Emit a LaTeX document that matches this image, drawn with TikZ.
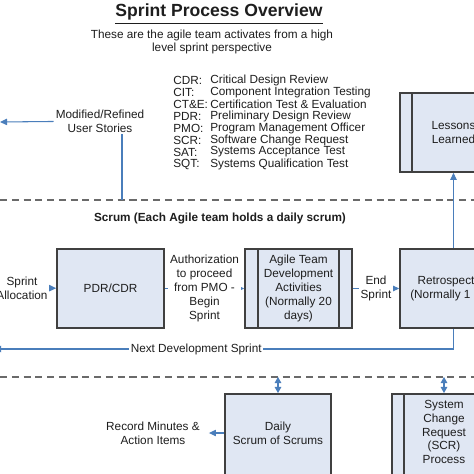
\documentclass[tikz,border=0pt]{standalone}
\usepackage{fontspec}
\setmainfont{Liberation Sans}
\usetikzlibrary{positioning,calc,arrows.meta}
\definecolor{boxfill}{HTML}{E0E7F3}
\definecolor{boxline}{HTML}{404040}
\definecolor{flowblue}{HTML}{4A7EBB}
\definecolor{sepgray}{HTML}{6A6A6A}
\definecolor{ink}{HTML}{1E1E1E}

\begin{document}
\begin{tikzpicture}[x=0.02cm,y=-0.02cm,every node/.append style={align=center,inner sep=1pt,text=ink,font=\fontsize{6.7}{7.9}\selectfont}]
    \tikzstyle{proc}=[rectangle, draw=boxline, fill=boxfill, line width=0.9pt, minimum width=2.14cm, minimum height=1.58cm]
    \tikzstyle{wire}=[draw=flowblue, line width=0.6pt]
    \tikzstyle{flow}=[wire, -{Triangle[length=4pt,width=3.6pt]}]
    \tikzstyle{twoway}=[wire, {Triangle[length=3.5pt,width=3.8pt]}-{Triangle[length=3.5pt,width=3.8pt]}]
    \tikzstyle{sep}=[draw=sepgray, line width=1.1pt, dash pattern=on 4pt off 2.7pt]
    \tikzstyle{legend}=[anchor=west, inner sep=0pt, font=\fontsize{6.7}{6.8}\selectfont]
    \path[use as bounding box, clip] (0,0) rectangle (474,474);
    \fill[white] (0,0) rectangle (474,474);
    % heading
    \node[font=\fontsize{10}{12}\selectfont\bfseries] (title) at (219,14) {\underline{Sprint Process Overview}};
    \node (sub) at (212,42) {These are the agile team activates from a high\\level sprint perspective};
    % abbreviations
    \foreach \ab/\txt [count=\k] in {CDR:/Critical Design Review,CIT:/Component Integration Testing,CT\&E:/Certification Test \& Evaluation,PDR:/Preliminary Design Review,PMO:/Program Management Officer,SCR:/Software Change Request,SAT:/Systems Acceptance Test,SQT:/Systems Qualification Test} {
        \node[legend] (ab\k) at (173,68+12*\k) {\ab};
        \node[legend] (df\k) at (210,68+12*\k) {\txt};
    }
    % swim lane borders
    \coordinate (d1) at (0,200);
    \coordinate (d2) at (0,377);
    \draw[sep] (d1) -- ++(474,0);
    \draw[sep] (d2) -- ++(474,0);
    \node[font=\fontsize{6.7}{7.9}\selectfont\bfseries] (scrumhd) at (220,218) {Scrum (Each Agile team holds a daily scrum)};
    % boxes
    \node[proc] (lessons) at (453.5,132.5) {Lessons\\Learned};
    \node[proc] (pdr) at (110.5,288.5) {PDR/CDR};
    \node[proc] (agile) at (298.5,288.5) {Agile Team\\Development\\Activities\\(Normally 20\\days)};
    \node[proc] (retro) at (453.5,288.5) {Retrospective\\(Normally 1 day)};
    \node[proc, minimum width=2.12cm, minimum height=2cm, anchor=north] (daily) at (278,393) {};
    \node (dailytxt) at (278,433) {Daily\\Scrum of Scrums};
    \node[proc, minimum width=2.12cm, minimum height=2cm, anchor=north west] (scr) at (391,393) {};
    \node (scrtxt) at (444,432) {System\\Change\\Request\\(SCR)\\Process};
    \foreach \n/\d in {lessons/13,agile/14,scr/13} {
        \draw[boxline, line width=0.9pt] ($(\n.north west)+(\d,0)$) -- ($(\n.south west)+(\d,0)$);
        \draw[boxline, line width=0.9pt] ($(\n.north east)+(-\d,0)$) -- ($(\n.south east)+(-\d,0)$);
    }
    % connectors
    \node (mod) at (100,121) {Modified/Refined\\User Stories};
    \coordinate (modleft) at (0,122);
    \coordinate (modfoot) at (122,200);
    \draw[flow] (mod) -- (modleft);
    \draw[wire] (modfoot) -- (modfoot |- mod.south);
    \node (alloc) at (22,288) {Sprint\\Allocation};
    \draw[flow] (alloc) -- (pdr);
    \draw[flow] (pdr) -- node[fill=white] (auth) {Authorization\\to proceed\\from PMO -\\Begin\\Sprint} (agile);
    \draw[flow] (agile) -- node[fill=white] (endspr) {End\\Sprint} (retro);
    \draw[flow] (retro) -- (lessons);
    \coordinate (nextend) at (-6,349);
    \draw[flow] (retro.south) |- node[pos=0.78, fill=white] (next) {Next Development Sprint} (nextend);
    \node (rec) at (153,433) {Record Minutes \&\\Action Items};
    \draw[flow, shorten >=4pt] (dailytxt -| daily.west) -- (rec);
    \draw[twoway] (daily.north |- d2) -- (daily.north);
    \draw[twoway] (scrtxt |- d2) -- (scrtxt |- scr.north);
\end{tikzpicture}
\end{document}
